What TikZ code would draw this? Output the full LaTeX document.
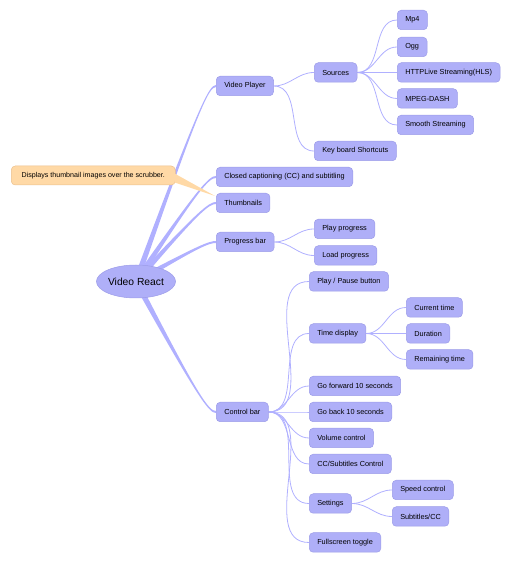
\documentclass[tikz,border=0pt]{standalone}
\usepackage{fontspec}
\setmainfont{Liberation Sans}
\usepackage{xcolor}
\usetikzlibrary{calc, positioning, shapes.geometric, backgrounds}

\definecolor{nodefill}{HTML}{AFAFF8}
\definecolor{nodeedge}{HTML}{9C9CE8}
\definecolor{linkcol}{HTML}{B0B0FF}
\definecolor{notefill}{HTML}{FFD9A6}
\definecolor{noteedge}{HTML}{EBC08D}

\begin{document}
\begin{tikzpicture}[x=1pt, y=1pt]
		\tikzstyle{topic} = [draw=nodeedge, fill=nodefill, line width=0.5pt, rounded corners=4pt, anchor=west, inner xsep=8pt, minimum height=19.5pt, font=\fontsize{7.3}{8}\selectfont]
		\tikzstyle{centre} = [draw=nodeedge, fill=nodefill, line width=0.5pt, ellipse, inner sep=0pt, minimum width=78pt, minimum height=33pt, font=\fontsize{10.3}{12}\selectfont]
		\tikzstyle{note} = [draw=noteedge, fill=notefill, line width=0.5pt, rounded corners=4pt, anchor=west, inner xsep=7pt, minimum height=19pt, minimum width=164pt, font=\fontsize{7.1}{8}\selectfont]
		\tikzstyle{link} = [draw=linkcol, line width=0.8pt]
		\tikzstyle{trunk} = [fill=linkcol]

		\useasboundingbox (0, 0) rectangle (512, 563);

		\node[centre] 	at (136, 281.5)	(root) 	{Video React};

		% first level
		\node[topic] 	at (216, 477)	(vp) 	{Video Player};
		\node[topic] 	at (216, 386)	(cc) 	{Closed captioning (CC) and subtitling};
		\node[topic] 	at (216, 360)	(thumb) {Thumbnails};
		\node[topic] 	at (216, 321)	(prog) 	{Progress bar};
		\node[topic] 	at (216, 151)	(ctrl) 	{Control bar};

		% video player
		\node[topic] 	at (314, 490.5)	(src) 	{Sources};
		\node[topic] 	at (314, 412)	(keys) 	{Key board Shortcuts};
		\node[topic] 	at (397, 543)	(mp4) 	{Mp4};
		\node[topic] 	at (397, 516)	(ogg) 	{Ogg};
		\node[topic] 	at (397, 490.5)	(hls) 	{HTTPLive Streaming(HLS)};
		\node[topic] 	at (397, 464.5)	(dash) 	{MPEG-DASH};
		\node[topic] 	at (397, 438)	(smooth) {Smooth Streaming};

		% progress bar
		\node[topic] 	at (314, 334)	(playprog) {Play progress};
		\node[topic] 	at (314, 307.5)	(loadprog) {Load progress};

		% control bar
		\node[topic] 	at (309, 281.5)	(play) 	{Play / Pause button};
		\node[topic] 	at (309, 229.5)	(time) 	{Time display};
		\node[topic] 	at (406, 255.5)	(cur) 	{Current time};
		\node[topic] 	at (406, 229.5)	(dur) 	{Duration};
		\node[topic] 	at (406, 203.5)	(rem) 	{Remaining time};
		\node[topic] 	at (309, 177)	(fwd) 	{Go forward 10 seconds};
		\node[topic] 	at (309, 151)	(back) 	{Go back 10 seconds};
		\node[topic] 	at (309, 125)	(vol) 	{Volume control};
		\node[topic] 	at (309, 99)	(ccctl) {CC/Subtitles Control};
		\node[topic] 	at (309, 59.5)	(set) 	{Settings};
		\node[topic] 	at (392, 73)	(speed) {Speed control};
		\node[topic] 	at (392, 46.5)	(subs) 	{Subtitles/CC};
		\node[topic] 	at (309, 20.5)	(full) 	{Fullscreen toggle};

		% note on thumbnails
		\node[note] 	at (11, 387.5)	(tip) 	{Displays thumbnail images over the scrubber.};
		\coordinate (pin) at ($(thumb.west)+(-1, 7)$);
		\fill[notefill] ($(tip.east)+(-1, 2)$) -- (pin) -- ($(tip.east)+(-1, -7)$) -- cycle;

		\begin{scope}[on background layer]
		\foreach \kid in {vp, cc, thumb, prog, ctrl}
			\fill[trunk] ($(root.center)!3pt!90:(\kid.west)$)
				.. controls ($(root.center)!0.9!($(\kid.west)+(-10, 1)$)$) and ($(\kid.west)+(-7, 1)$) .. ($(\kid.west)+(0, 1)$)
				-- ($(\kid.west)+(0, -1)$)
				.. controls ($(\kid.west)+(-7, -1)$) and ($(root.center)!0.9!($(\kid.west)+(-10, -1)$)$) .. ($(root.center)!3pt!-90:(\kid.west)$) -- cycle;

		\path[link]
		(vp.east) 	edge [out=0, in=180]	(src.west)
		(vp.east) 	edge [out=0, in=180]	(keys.west)
		(src.east) 	edge [out=0, in=180]	(mp4.west)
		(src.east) 	edge [out=0, in=180]	(ogg.west)
		(src.east) 	edge [out=0, in=180]	(hls.west)
		(src.east) 	edge [out=0, in=180]	(dash.west)
		(src.east) 	edge [out=0, in=180]	(smooth.west)
		(prog.east) edge [out=0, in=180]	(playprog.west)
		(prog.east) edge [out=0, in=180]	(loadprog.west)
		(ctrl.east) edge [out=0, in=180]	(play.west)
		(ctrl.east) edge [out=0, in=180]	(time.west)
		(ctrl.east) edge [out=0, in=180]	(fwd.west)
		(ctrl.east) edge [out=0, in=180]	(back.west)
		(ctrl.east) edge [out=0, in=180]	(vol.west)
		(ctrl.east) edge [out=0, in=180]	(ccctl.west)
		(ctrl.east) edge [out=0, in=180]	(set.west)
		(ctrl.east) edge [out=0, in=180]	(full.west)
		(time.east) edge [out=0, in=180]	(cur.west)
		(time.east) edge [out=0, in=180]	(dur.west)
		(time.east) edge [out=0, in=180]	(rem.west)
		(set.east) 	edge [out=0, in=180]	(speed.west)
		(set.east) 	edge [out=0, in=180]	(subs.west);
		\end{scope}
	\end{tikzpicture}
\end{document}
